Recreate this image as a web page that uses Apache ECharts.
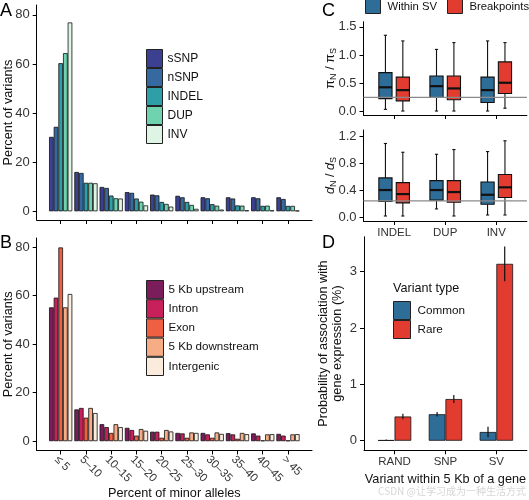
<!DOCTYPE html>
<html><head><meta charset="utf-8">
<script src="https://cdn.jsdelivr.net/npm/echarts@6/dist/echarts.min.js"></script>
<style>html,body{margin:0;padding:0;background:#fff}#c{width:529px;height:500px}</style>
</head><body><div id="c"></div>
<script>
// ---------- data ----------
const mafBins = ['≤ 5','5–10','10–15','15–20','20–25','25–30','30–35','35–40','40–45','> 45'];
const typeNames = ['sSNP','nSNP','INDEL','DUP','INV'];
const sSNP  = [30.3,16.0,9.9,7.8,6.8,6.3,5.7,5.7,5.7,5.7];
const nSNP  = [34.4,15.6,9.5,7.5,6.5,5.7,5.3,5.2,5.3,5.0];
const INDEL = [60.3,11.6,6.4,5.2,3.8,3.8,2.9,2.4,2.2,2.2];
const DUP   = [64.4,11.6,5.3,3.9,3.0,2.6,2.3,2.3,2.3,2.2];
const INV   = [76.9,11.4,5.2,2.4,1.9,1.0,0.7,0.4,0.4,0.3];
const regionNames = ['5 Kb upstream','Intron','Exon','5 Kb downstream','Intergenic'];
const upstream   = [55.2,13.1,7.0,5.5,3.9,3.4,3.4,3.3,3.2,3.0];
const intron     = [59.2,13.7,5.8,4.6,3.9,3.2,2.8,2.8,2.3,2.3];
const exon       = [79.9,9.7,3.4,2.3,1.4,1.4,1.4,1.0,0.3,0.3];
const downstream = [55.2,13.7,7.0,5.0,4.6,3.6,3.6,3.4,2.8,2.8];
const intergenic = [60.7,11.6,5.8,4.3,4.0,3.4,3.0,2.9,2.9,2.9];
const pctTicks = [0,20,40,60,80];

const svTypes = ['INDEL','DUP','INV'];
// each box: [lower whisker, Q1, median, Q3, upper whisker]
const piWithin = [[0.04,0.23,0.43,0.69,1.35],[0.01,0.25,0.45,0.63,1.10],[0.01,0.16,0.38,0.61,1.25]];
const piBreak  = [[0.01,0.19,0.38,0.61,1.25],[0.01,0.21,0.41,0.63,1.22],[0.06,0.32,0.51,0.88,1.22]];
const piRef = 0.25;
const piTicks = [0,0.5,1.0,1.5];
const dWithin = [[0.015,0.23,0.40,0.58,1.09],[0.12,0.25,0.40,0.54,0.93],[0.03,0.19,0.33,0.52,0.97]];
const dBreak  = [[0.015,0.21,0.34,0.51,0.96],[0.015,0.22,0.37,0.54,1.00],[0.03,0.29,0.44,0.63,1.13]];
const dRef = 0.24;
const dTicks = [0,0.4,0.8,1.2];

const genes = ['RAND','SNP','SV'];
const common   = [0.01,0.47,0.155];
const commonLo = [0.0,0.43,0.06];
const commonHi = [0.02,0.51,0.25];
const rare     = [0.43,0.74,3.14];
const rareLo   = [0.38,0.67,2.83];
const rareHi   = [0.48,0.81,3.45];
const probTicks = [0,1,2,3];

// ---------- styles ----------
const FONT = '"Liberation Sans", Arial, sans-serif';
const TXT = '#333';
const FS = 13;      // y tick labels
const FT = 12.7;    // axis titles
const FX = 11.5;    // x category labels
const colA = ['#3b4190','#36699f','#2f9fa7','#6fd3b0','#def5e5'];
const colB = ['#7c1d5b','#c8205a','#ef5f41','#f6ac85','#faebdd'];
const BLUE = '#2f6d99', RED = '#e23b2f';
const lineSt = {color:'#000', width:1};
const idx10 = mafBins.map((_, i) => i + 1);
const idx3 = svTypes.map((_, i) => i + 1);
const cXmin = 0.4, cXmax = 3.6;

function xAx(grid, min, max, ticks, labels, extra) {
  return Object.assign({
    type:'value', gridIndex:grid, min, max, nameMoveOverlap:false,
    axisLine:{show:true, onZero:false, lineStyle:lineSt},
    axisTick:{show:true, customValues:ticks, length:4, lineStyle:lineSt},
    axisLabel: labels ? {show:true, customValues:ticks, formatter:v => labels[Math.round(v)-1], color:TXT, fontSize:FX, fontFamily:FONT, margin:6}
                      : {show:false},
    splitLine:{show:false}
  }, extra || {});
}
function yAx(grid, min, max, ticks, fmt, extra) {
  return Object.assign({
    type:'value', gridIndex:grid, min, max, nameMoveOverlap:false,
    axisLine:{show:true, onZero:false, lineStyle:lineSt},
    axisTick:{show:true, customValues:ticks, length:4, lineStyle:lineSt},
    axisLabel:{show:true, customValues:ticks, formatter:fmt, color:TXT, fontSize:FS, fontFamily:FONT, margin:7},
    splitLine:{show:false},
    nameLocation:'middle',
    nameTextStyle:{color:'#111', fontSize:FT, fontFamily:FONT}
  }, extra || {});
}

const toXY = arr => arr.map((v, i) => [i + 1, v]);
function barSeries(name, arr, color, ax, width) {
  return {type:'bar', name, xAxisIndex:ax, yAxisIndex:ax, data:toXY(arr), barWidth:width, barGap:'0%',
    itemStyle:{color, borderColor:'#111', borderWidth:0.8}, emphasis:{disabled:true}};
}
function boxSeries(name, boxes, color, ax, offset) {
  return {
    type:'custom', name, xAxisIndex:ax, yAxisIndex:ax,
    itemStyle:{color, borderColor:'#111', borderWidth:1},
    data: boxes.map((b, i) => [i + 1].concat(b)),
    encode:{x:0, y:[1,2,3,4,5]},
    renderItem: (params, api) => {
      const x = api.value(0);
      const ys = [1,2,3,4,5].map(k => api.coord([x, api.value(k)])[1]);
      const cx = api.coord([x, 0])[0] + offset;
      const hw = 6.6, cap = 1.6;
      const st = {stroke:'#111', lineWidth:1.1};
      return {type:'group', children:[
        {type:'line', shape:{x1:cx, y1:ys[4], x2:cx, y2:ys[3]}, style:st},
        {type:'line', shape:{x1:cx, y1:ys[1], x2:cx, y2:ys[0]}, style:st},
        {type:'line', shape:{x1:cx-cap, y1:ys[4], x2:cx+cap, y2:ys[4]}, style:st},
        {type:'line', shape:{x1:cx-cap, y1:ys[0], x2:cx+cap, y2:ys[0]}, style:st},
        {type:'rect', shape:{x:cx-hw, y:ys[3], width:2*hw, height:ys[1]-ys[3]}, style:{fill:color, stroke:'#111', lineWidth:1.1}},
        {type:'line', shape:{x1:cx-hw, y1:ys[2], x2:cx+hw, y2:ys[2]}, style:{stroke:'#111', lineWidth:2.2}}
      ]};
    }
  };
}
function refLine(ax, v) {
  return {type:'line', xAxisIndex:ax, yAxisIndex:ax, data:[[cXmin, v],[cXmax, v]], symbol:'none', silent:true,
    lineStyle:{color:'#8a8a8a', width:1.2}, z:10};
}
function errSeries(lo, hi, offset) {
  return {type:'custom', xAxisIndex:4, yAxisIndex:4, z:10, silent:true,
    data: lo.map((l, i) => [i + 1, l, hi[i]]), encode:{x:0, y:[1,2]},
    renderItem: (params, api) => {
      const x = api.value(0);
      const a = api.coord([x, api.value(1)]);
      const b = api.coord([x, api.value(2)]);
      return {type:'line', shape:{x1:a[0]+offset, y1:a[1], x2:a[0]+offset, y2:b[1]}, style:{stroke:'#111', lineWidth:1.2}};
    }};
}

function legendAt(pos, names, fontSize, textPad) {
  return Object.assign({icon:'rect', selectedMode:false, itemGap:0, padding:0,
    itemStyle:{borderColor:'#222', borderWidth:1},
    textStyle:{color:'#111', fontSize, fontFamily:FONT, padding:[0,0,0,textPad]},
    data:names}, pos);
}
const gridBase = {outerBoundsMode:'none', containLabel:false};

const option = {
  animation:false,
  backgroundColor:'#fff',
  grid:[
    Object.assign({left:36.7, top:5, width:275.3, height:215}, gridBase),
    Object.assign({left:36.7, top:238, width:275.3, height:212.5}, gridBase),
    Object.assign({left:363.5, top:21.7, width:163.4, height:93.3}, gridBase),
    Object.assign({left:363.5, top:130, width:163.4, height:91}, gridBase),
    Object.assign({left:364, top:236.8, width:162.9, height:213.5}, gridBase)
  ],
  xAxis:[
    xAx(0, 0.05, 10.95, idx10, null),
    xAx(1, 0.05, 10.95, idx10, mafBins, {
      name:'Percent of minor alleles', nameLocation:'middle', nameGap:36,
      nameTextStyle:{color:'#111', fontSize:FT, fontFamily:FONT}
    }),
    xAx(2, cXmin, cXmax, idx3, null),
    xAx(3, cXmin, cXmax, idx3, svTypes),
    xAx(4, cXmin, cXmax, idx3, genes, {
      name:'Variant within 5 Kb of a gene', nameLocation:'middle', nameGap:23,
      nameTextStyle:{color:'#111', fontSize:FT, fontFamily:FONT}
    })
  ],
  yAxis:[
    yAx(0, -3.55, 84, pctTicks, v => String(v), {name:'Percent of variants', nameGap:22}),
    yAx(1, -3.85, 83.8, pctTicks, v => String(v), {name:'Percent of variants', nameGap:22}),
    yAx(2, -0.06, 1.59, piTicks, v => v.toFixed(1), {
      name:'{m|π}{s|N}{m| / π}{s|S}', nameGap:25,
      nameTextStyle:{color:'#111', fontFamily:FONT, rich:{
        m:{fontSize:FT, lineHeight:16, fontFamily:FONT, color:'#111'},
        s:{fontSize:9, lineHeight:10, padding:[6,0,0,0], fontFamily:FONT, color:'#111'}
      }}
    }),
    yAx(3, -0.059, 1.29, dTicks, v => v.toFixed(1), {
      name:'{d|d}{s|N}{m| / }{d|d}{s|S}', nameGap:25,
      nameTextStyle:{color:'#111', fontFamily:FONT, rich:{
        m:{fontSize:FT, lineHeight:16, fontFamily:FONT, color:'#111'},
        d:{fontSize:FT, lineHeight:16, fontStyle:'italic', fontFamily:FONT, color:'#111'},
        s:{fontSize:9, lineHeight:10, padding:[6,0,0,0], fontFamily:FONT, color:'#111'}
      }}
    }),
    yAx(4, -0.17, 3.62, probTicks, v => String(v), {
      name:'Probability of association with\ngene expression (%)', nameGap:20,
      nameTextStyle:{color:'#111', fontSize:FT, fontFamily:FONT, lineHeight:14}
    })
  ],
  legend:[
    legendAt({orient:'vertical', left:146, top:49, itemWidth:16, itemHeight:18}, typeNames, 12, 0),
    legendAt({orient:'vertical', left:146, top:280, itemWidth:17, itemHeight:18.2}, regionNames, 11.6, 0),
    legendAt({orient:'horizontal', left:365, top:-1, itemWidth:15, itemHeight:14}, ['Within SV'], 11.3, 2),
    legendAt({orient:'horizontal', left:447, top:-1, itemWidth:15, itemHeight:14}, ['Breakpoints'], 11.3, 2),
    legendAt({orient:'vertical', left:393, top:301, itemWidth:17, itemHeight:18}, ['Common','Rare'], 11.7, 2)
  ],
  graphic:[
    {type:'text', left:0, top:2, style:{text:'A', fontSize:18, fontFamily:FONT, fill:'#000'}},
    {type:'text', left:0, top:234, style:{text:'B', fontSize:18, fontFamily:FONT, fill:'#000'}},
    {type:'text', left:322, top:2, style:{text:'C', fontSize:18, fontFamily:FONT, fill:'#000'}},
    {type:'text', left:322, top:234, style:{text:'D', fontSize:18, fontFamily:FONT, fill:'#000'}},
    {type:'text', left:393, top:282, style:{text:'Variant type', fontSize:12.6, fontFamily:FONT, fill:'#111'}},
    {type:'text', right:3, top:486, style:{text:'CSDN @让学习成为一种生活方式', fontSize:10, fontFamily:'"Noto Sans CJK SC", sans-serif', fill:'#d6d6d6'}}
  ],
  series:[
    barSeries('sSNP', sSNP, colA[0], 0, 4.65),
    barSeries('nSNP', nSNP, colA[1], 0, 4.65),
    barSeries('INDEL', INDEL, colA[2], 0, 4.65),
    barSeries('DUP', DUP, colA[3], 0, 4.65),
    barSeries('INV', INV, colA[4], 0, 4.65),
    barSeries('5 Kb upstream', upstream, colB[0], 1, 4.65),
    barSeries('Intron', intron, colB[1], 1, 4.65),
    barSeries('Exon', exon, colB[2], 1, 4.65),
    barSeries('5 Kb downstream', downstream, colB[3], 1, 4.65),
    barSeries('Intergenic', intergenic, colB[4], 1, 4.65),
    boxSeries('Within SV', piWithin, BLUE, 2, -8.7),
    boxSeries('Breakpoints', piBreak, RED, 2, 8.7),
    refLine(2, piRef),
    boxSeries('Within SV', dWithin, BLUE, 3, -8.7),
    boxSeries('Breakpoints', dBreak, RED, 3, 8.7),
    refLine(3, dRef),
    barSeries('Common', common, BLUE, 4, 16.7),
    barSeries('Rare', rare, RED, 4, 16.7),
    errSeries(commonLo, commonHi, -8.35),
    errSeries(rareLo, rareHi, 8.35)
  ]
};
// rotated labels for panel B
Object.assign(option.xAxis[1].axisLabel, {rotate:-45, margin:3, verticalAlign:'top', align:'left'});

const chart = echarts.init(document.getElementById('c'), null, {renderer:'canvas'});
chart.setOption(option);
</script>
</body></html>
